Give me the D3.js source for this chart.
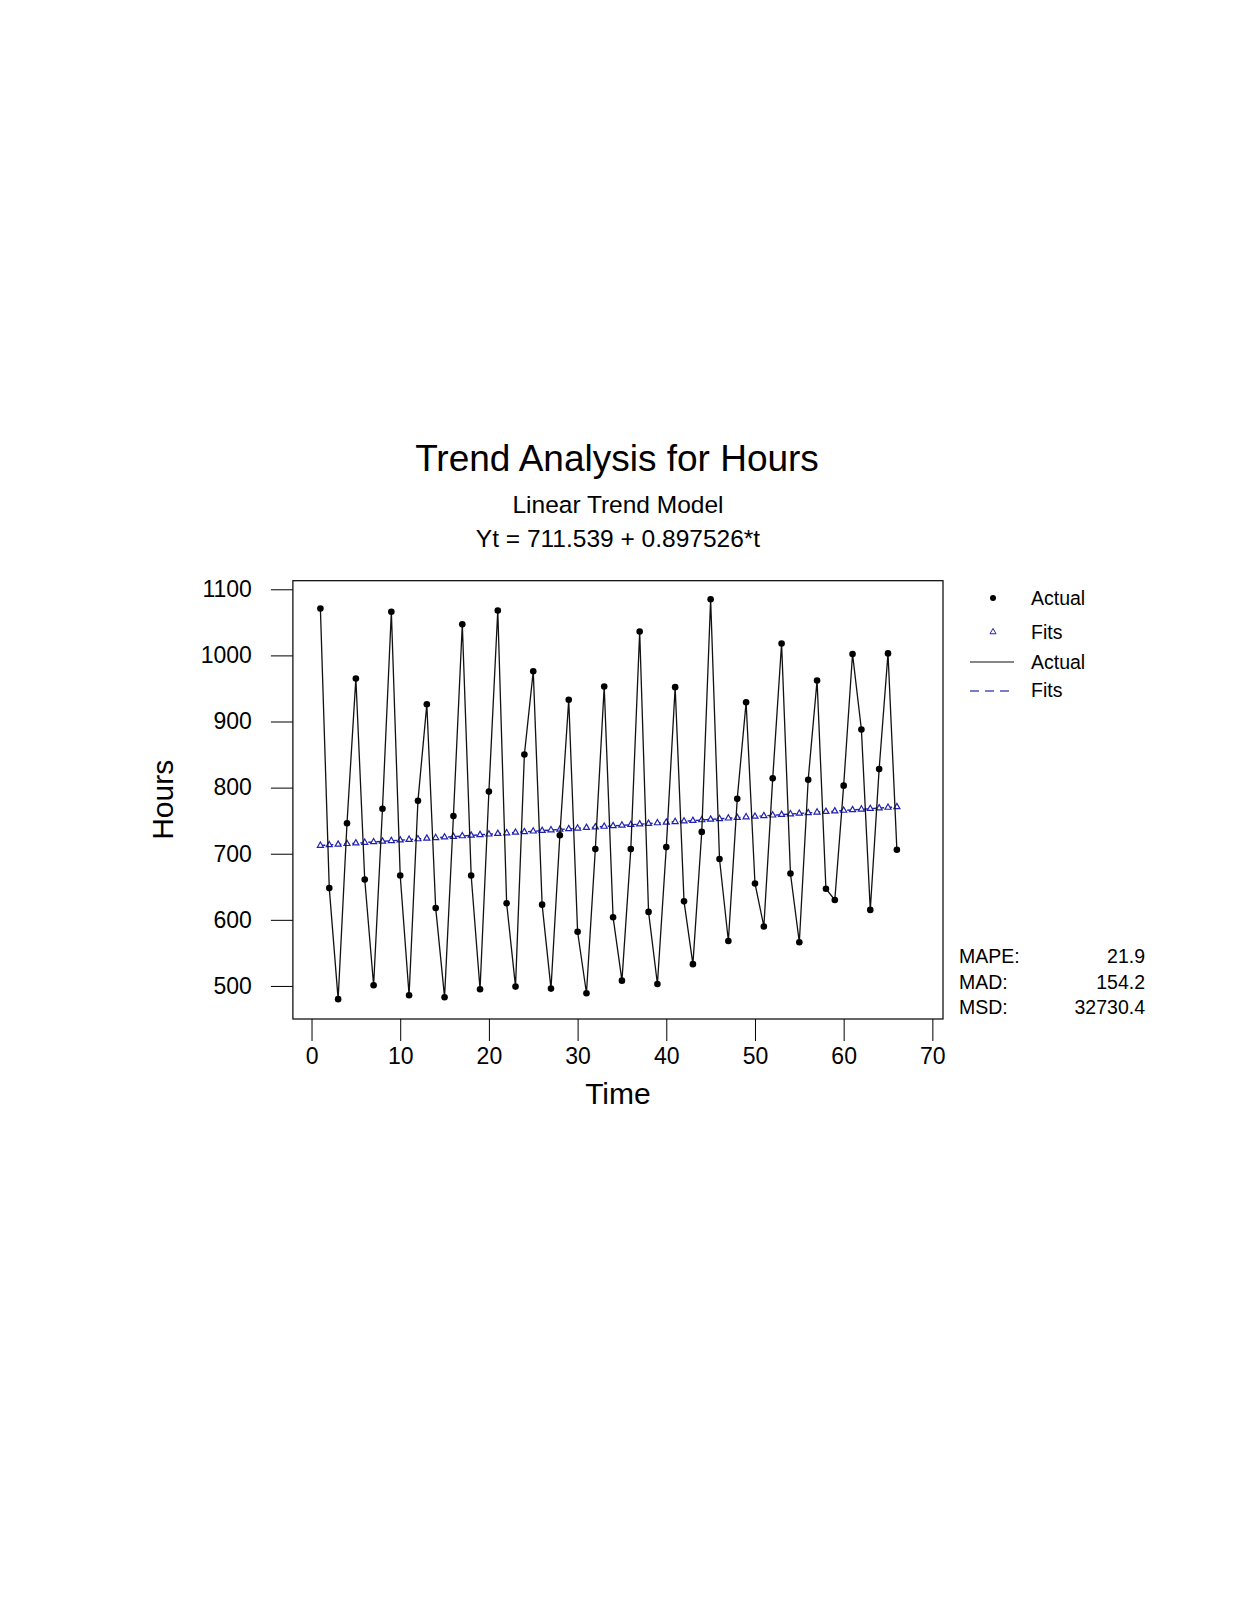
<!DOCTYPE html>
<html>
<head>
<meta charset="utf-8">
<script src="https://cdn.jsdelivr.net/npm/d3@7"></script>
<style>
  html, body { margin: 0; padding: 0; background: #fff; }
  svg { display: block; }
  text { font-family: "Liberation Sans", Arial, Helvetica, sans-serif; fill: #000; }
</style>
</head>
<body>
<svg id="chart" width="1236" height="1600"></svg>
<script>
// ---- Data ----
const time = d3.range(1, 67);
const actual = [1071, 648, 480, 746, 965, 661, 501, 768, 1066, 667,
                486, 780, 926, 618, 483, 757, 1047, 667, 495, 794,
                1068, 625, 499, 850, 976, 623, 496, 728, 933, 582,
                489, 707, 953, 604, 508, 707, 1036, 612, 503, 710,
                952, 628, 533, 733, 1085, 692, 568, 783, 929, 655,
                590, 814, 1018, 670, 566, 812, 962, 647, 630, 803,
                1002, 888, 615, 828, 1003, 706];
const fits = [712.4, 713.3, 714.2, 715.1, 716.0, 716.9, 717.8, 718.7, 719.6, 720.5,
              721.4, 722.3, 723.2, 724.1, 725.0, 725.9, 726.8, 727.7, 728.6, 729.5,
              730.4, 731.3, 732.2, 733.1, 734.0, 734.9, 735.8, 736.7, 737.6, 738.5,
              739.4, 740.3, 741.2, 742.1, 743.0, 743.9, 744.7, 745.6, 746.5, 747.4,
              748.3, 749.2, 750.1, 751.0, 751.9, 752.8, 753.7, 754.6, 755.5, 756.4,
              757.3, 758.2, 759.1, 760.0, 760.9, 761.8, 762.7, 763.6, 764.5, 765.4,
              766.3, 767.2, 768.1, 769.0, 769.9, 770.8];
const xTicks = [0, 10, 20, 30, 40, 50, 60, 70];
const yTicks = [500, 600, 700, 800, 900, 1000, 1100];
const titleText = "Trend Analysis for Hours";
const subtitle1 = "Linear Trend Model";
const subtitle2 = "Yt = 711.539 + 0.897526*t";
const legendItems = ["Actual", "Fits", "Actual", "Fits"];
const statLabels = ["MAPE:", "MAD:", "MSD:"];
const statValues = ["21.9", "154.2", "32730.4"];

// ---- Layout ----
const svg = d3.select("#chart");
const L = 292.9, R = 943, T = 580.7, B = 1019;
const x = d3.scaleLinear().domain([-2.1, 71.2]).range([L, R]);
const y = d3.scaleLinear().domain([450, 1113]).range([B, T]);
const actualColor = "#000";
const fitColor = "#2222b0";

// Titles
svg.append("text").attr("x", 617).attr("y", 471).attr("text-anchor", "middle")
  .attr("font-size", 37).text(titleText);
svg.append("text").attr("x", 618).attr("y", 513).attr("text-anchor", "middle")
  .attr("font-size", 24.5).text(subtitle1);
svg.append("text").attr("x", 618).attr("y", 547).attr("text-anchor", "middle")
  .attr("font-size", 24.5).text(subtitle2);

// Axes
const yAxis = d3.axisLeft(y).tickValues(yTicks).tickSize(22).tickPadding(19).tickFormat(d3.format("d"));
const gy = svg.append("g").attr("transform", `translate(${L},0)`).call(yAxis);
gy.select(".domain").remove();
gy.selectAll("text").attr("font-size", 23).attr("font-family", "Liberation Sans, Arial, sans-serif");
gy.selectAll("line").attr("stroke", "#000");

const xAxis = d3.axisBottom(x).tickValues(xTicks).tickSize(22).tickPadding(7).tickFormat(d3.format("d"));
const gx = svg.append("g").attr("transform", `translate(0,${B})`).call(xAxis);
gx.select(".domain").remove();
gx.selectAll("text").attr("font-size", 23).attr("font-family", "Liberation Sans, Arial, sans-serif");
gx.selectAll("line").attr("stroke", "#000");

// Frame
svg.append("rect").attr("x", L).attr("y", T).attr("width", R - L).attr("height", B - T)
  .attr("fill", "none").attr("stroke", "#000").attr("stroke-width", 1.2);

// Axis titles
svg.append("text").attr("x", (L + R) / 2).attr("y", 1104).attr("text-anchor", "middle")
  .attr("font-size", 30).text("Time");
svg.append("text").attr("transform", `translate(173,${(T + B) / 2}) rotate(-90)`)
  .attr("text-anchor", "middle").attr("font-size", 30).text("Hours");

// Fits line (dashed) and triangles
const fitData = time.map((t, i) => [t, fits[i]]);
svg.append("path").datum(fitData)
  .attr("d", d3.line().x(d => x(d[0])).y(d => y(d[1])))
  .attr("fill", "none").attr("stroke", fitColor).attr("stroke-width", 1.4)
  .attr("stroke-dasharray", "5,3");
const tri = d3.symbol().type(d3.symbolTriangle).size(16);
svg.append("g").selectAll("path").data(fitData).join("path")
  .attr("d", tri).attr("transform", d => `translate(${x(d[0])},${y(d[1])})`)
  .attr("fill", "#fff").attr("stroke", fitColor).attr("stroke-width", 1.2);

// Actual line and dots
const actData = time.map((t, i) => [t, actual[i]]);
svg.append("path").datum(actData)
  .attr("d", d3.line().x(d => x(d[0])).y(d => y(d[1])))
  .attr("fill", "none").attr("stroke", "#111").attr("stroke-width", 1.3);
svg.append("g").selectAll("circle").data(actData).join("circle")
  .attr("cx", d => x(d[0])).attr("cy", d => y(d[1])).attr("r", 3.3)
  .attr("fill", actualColor);

// Legend
const lg = svg.append("g");
lg.append("circle").attr("cx", 993).attr("cy", 598).attr("r", 3).attr("fill", actualColor);
lg.append("path").attr("d", tri).attr("transform", "translate(993,632)")
  .attr("fill", "#fff").attr("stroke", fitColor).attr("stroke-width", 1);
lg.append("line").attr("x1", 970).attr("x2", 1014).attr("y1", 662).attr("y2", 662)
  .attr("stroke", "#111").attr("stroke-width", 1.2);
lg.append("line").attr("x1", 970).attr("x2", 1014).attr("y1", 691).attr("y2", 691)
  .attr("stroke", "#5050b8").attr("stroke-width", 1.3).attr("stroke-dasharray", "9,6");
const legY = [598, 632, 662, 690];
lg.selectAll("text.leg").data(legendItems).join("text").attr("class", "leg")
  .attr("x", 1031).attr("y", (d, i) => legY[i]).attr("dy", "0.35em")
  .attr("font-size", 19.5).text(d => d);

// Stats
const statY = [956, 982, 1007];
svg.selectAll("text.sl").data(statLabels).join("text").attr("class", "sl")
  .attr("x", 959).attr("y", (d, i) => statY[i]).attr("dy", "0.35em")
  .attr("font-size", 19.5).text(d => d);
svg.selectAll("text.sv").data(statValues).join("text").attr("class", "sv")
  .attr("x", 1145).attr("y", (d, i) => statY[i]).attr("dy", "0.35em")
  .attr("text-anchor", "end").attr("font-size", 19.5).text(d => d);
</script>
</body>
</html>
